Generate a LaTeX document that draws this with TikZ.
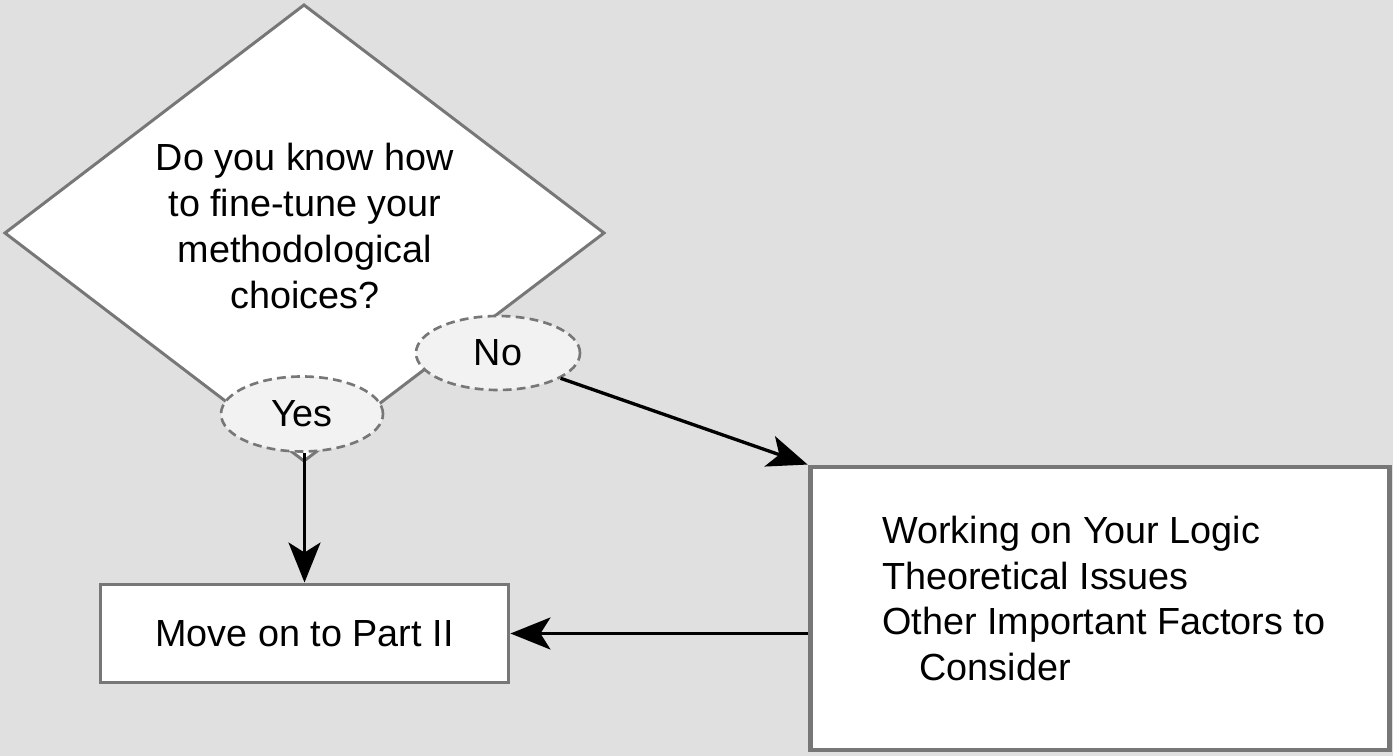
\documentclass[tikz,border=0pt]{standalone}
\usepackage{fontspec}
\setmainfont{Liberation Sans}
\usetikzlibrary{arrows.meta,positioning,shapes.geometric}
\definecolor{bggray}{HTML}{E0E0E0}
\definecolor{edgegray}{HTML}{777777}
\definecolor{ovalfill}{HTML}{F2F2F2}
\tikzset{
  box/.style={draw=edgegray, fill=white, line width=1.7pt, inner sep=0pt},
  answer/.style={ellipse, draw=edgegray, dash pattern=on 5pt off 3pt, fill=ovalfill, line width=1.5pt,
    minimum width=3.24cm, minimum height=1.5cm, inner sep=0pt},
  flow/.style={line width=1.9pt, -{Stealth[length=0.8cm, width=0.64cm, inset=0.2cm]}},
}
\begin{document}
\begin{tikzpicture}[x=0.02cm, y=-0.02cm, font=\fontsize{21.5}{26}\selectfont]
    \fill[bggray] (0,0) rectangle (1393,756);
    \useasboundingbox (0,0) rectangle (1393,756);

    % decision
    \coordinate (dtop) at (304,5);
    \coordinate (dleft) at (5,233);
    \coordinate (dright) at (604,233);
    \coordinate (dbot) at (304,461);
    \draw[box] (dtop) -- (dright) -- (dbot) -- (dleft) -- cycle;
    \node[align=center] (question) at (305,226) {Do you know how\\to fine-tune your\\methodological\\choices?};

    \node[answer] (yes) at (302,414) {Yes};
    \node[answer, minimum width=3.28cm, minimum height=1.48cm] (no) at (498,353) {No};

    % boxes
    \node[box, minimum width=8.18cm, minimum height=1.98cm] (move) at (304.5,633.5) {Move on to Part II};
    \node[box, line width=2.8pt, minimum width=11.6cm, minimum height=5.66cm] (work) at (1100,608.5) {};
    \node[align=left, anchor=north west] (topics) at (876,510)
      {Working on Your Logic\\Theoretical Issues\\Other Important Factors to\\\hspace{0.75cm}Consider};

    \draw[flow] (yes.south -| move.north) -- (move.north);
    \draw[flow] (no.-22) -- (work.north west);
    \draw[flow] (work.west |- move.east) -- (move.east);
\end{tikzpicture}
\end{document}
